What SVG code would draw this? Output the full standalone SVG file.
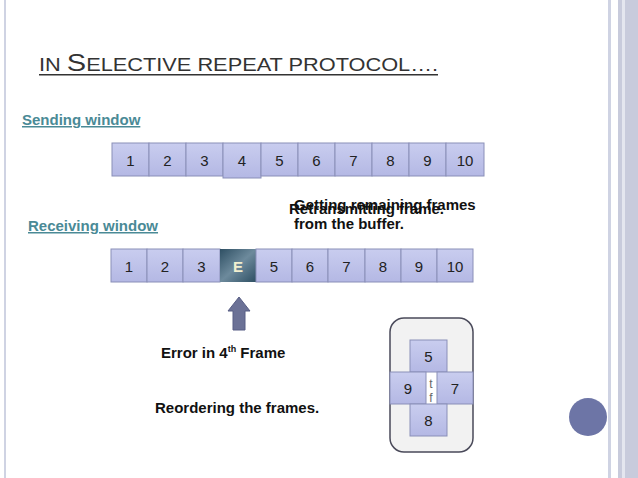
<svg xmlns="http://www.w3.org/2000/svg" width="638" height="478" viewBox="0 0 638 478">
<defs>
<linearGradient id="bx" x1="0" y1="0" x2="0" y2="1"><stop offset="0" stop-color="#c9cdef"/><stop offset="1" stop-color="#b4b8e4"/></linearGradient>
<linearGradient id="er" x1="0" y1="0" x2="1" y2="1"><stop offset="0" stop-color="#2e4f63"/><stop offset="0.5" stop-color="#6d8a9c"/><stop offset="1" stop-color="#2e4f63"/></linearGradient>
</defs>
<style>
.b{fill:url(#bx);stroke:#8a8fb8;stroke-width:1}
.n{font-family:"Liberation Sans",Arial,sans-serif;font-size:15px;fill:#222;text-anchor:middle}
.t{font-family:"Liberation Sans",Arial,sans-serif;font-size:15px;font-weight:bold;fill:#111}
.l{font-family:"Liberation Sans",Arial,sans-serif;font-size:15px;font-weight:bold;fill:#4a8a96;text-decoration:underline}
</style>
<rect width="638" height="478" fill="#fff"/>
<rect x="4" y="0" width="2" height="478" fill="#cfd3e3"/>
<rect x="608" y="0" width="3" height="478" fill="#cfd3e3"/>
<rect x="618" y="0" width="20" height="478" fill="#c8cbdc"/>
<rect x="622" y="0" width="3" height="478" fill="#e4e6ef"/>
<text x="39" y="71" font-family="'Liberation Sans',Arial,sans-serif" font-size="18" fill="#333" textLength="399" lengthAdjust="spacingAndGlyphs">IN <tspan font-size="24">S</tspan>ELECTIVE REPEAT PROTOCOL….</text>
<rect x="39" y="74" width="399" height="1.5" fill="#333"/>
<text class="l" x="22" y="125">Sending window</text>
<text class="l" x="28" y="231">Receiving  window</text>
<g id="send">
<rect class="b" x="112" y="143" width="37" height="33"/><text class="n" x="130.5" y="166">1</text>
<rect class="b" x="149" y="143" width="37" height="33"/><text class="n" x="167.5" y="166">2</text>
<rect class="b" x="186" y="143" width="37" height="33"/><text class="n" x="204.5" y="166">3</text>
<rect class="b" x="223" y="143" width="38" height="35"/><text class="n" x="242" y="166">4</text>
<rect class="b" x="261" y="143" width="37" height="33"/><text class="n" x="279.5" y="166">5</text>
<rect class="b" x="298" y="143" width="37" height="33"/><text class="n" x="316.5" y="166">6</text>
<rect class="b" x="335" y="143" width="37" height="33"/><text class="n" x="353.5" y="166">7</text>
<rect class="b" x="372" y="143" width="37" height="33"/><text class="n" x="390.5" y="166">8</text>
<rect class="b" x="409" y="143" width="37" height="33"/><text class="n" x="427.5" y="166">9</text>
<rect class="b" x="446" y="143" width="38" height="33"/><text class="n" x="465" y="166">10</text>
</g>
<g id="recv">
<rect class="b" x="111" y="249" width="36" height="33"/><text class="n" x="129" y="272">1</text>
<rect class="b" x="147" y="249" width="36" height="33"/><text class="n" x="165" y="272">2</text>
<rect class="b" x="183" y="249" width="37" height="33"/><text class="n" x="201.5" y="272">3</text>
<rect x="220" y="249" width="36" height="33" fill="url(#er)"/><text class="n" x="238" y="272" style="fill:#f2efcf;font-weight:bold">E</text>
<rect class="b" x="256" y="249" width="36" height="33"/><text class="n" x="274" y="272">5</text>
<rect class="b" x="292" y="249" width="36" height="33"/><text class="n" x="310" y="272">6</text>
<rect class="b" x="328" y="249" width="37" height="33"/><text class="n" x="346.5" y="272">7</text>
<rect class="b" x="365" y="249" width="36" height="33"/><text class="n" x="383" y="272">8</text>
<rect class="b" x="401" y="249" width="36" height="33"/><text class="n" x="419" y="272">9</text>
<rect class="b" x="437" y="249" width="36" height="33"/><text class="n" x="455" y="272">10</text>
</g>
<g id="arrow"><polygon points="239,297 250,311 245,311 245,330 233,330 233,311 228,311" fill="#6b7196" stroke="#585e85"/></g>
<text class="t" x="289" y="214">Retransmitting frame.</text>
<text class="t" x="294" y="210">Getting  remaining frames</text>
<text class="t" x="294" y="229">from the buffer.</text>
<text class="t" x="161" y="358">Error in 4<tspan font-size="9" dy="-6">th</tspan><tspan dy="6"> Frame</tspan></text>
<text class="t" x="155" y="413">Reordering the frames.</text>
<g id="buffer">
<rect x="390" y="318" width="83" height="134" rx="14" fill="#f2f2f2" stroke="#4a4a5a" stroke-width="1.5"/>
<rect x="426" y="372" width="11" height="32" fill="#fff"/>
<text x="431" y="388" font-family="Liberation Sans,sans-serif" font-size="12" fill="#666" text-anchor="middle">t</text>
<text x="431" y="402" font-family="Liberation Sans,sans-serif" font-size="12" fill="#666" text-anchor="middle">f</text>
<rect class="b" x="410" y="340" width="37" height="32"/><text class="n" x="428.5" y="362">5</text>
<rect class="b" x="390" y="372" width="36" height="32"/><text class="n" x="408" y="394">9</text>
<rect class="b" x="437" y="372" width="36" height="32"/><text class="n" x="455" y="394">7</text>
<rect class="b" x="410" y="404" width="37" height="32"/><text class="n" x="428.5" y="426">8</text>
</g>
<circle cx="588" cy="417" r="19" fill="#6d75a6"/>
</svg>
